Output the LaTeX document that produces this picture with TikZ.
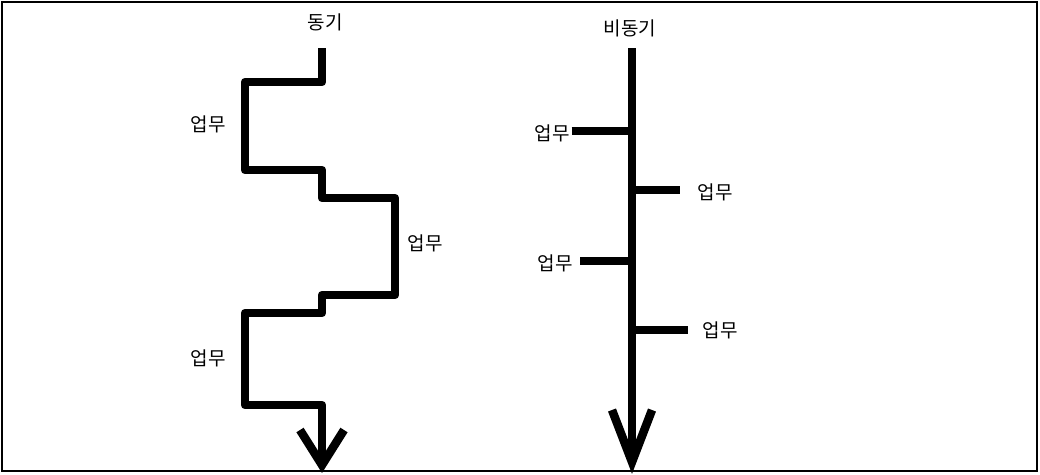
\documentclass[tikz,border=0pt]{standalone}
\usepackage{fontspec}
\setmainfont{Noto Sans CJK KR}
\begin{document}
\begin{tikzpicture}[x=1pt,y=-1pt,
  flow/.style={line width=8.5pt,line join=round},
  lbl/.style={font=\fontsize{19}{20}\selectfont,inner sep=0pt}]
\useasboundingbox (0,0) rectangle (1040,474);
\draw[line width=2pt] (2,2) rectangle (1037,471);
\node[lbl] (t1) at (325,22) {동기};
\node[lbl] (t2) at (630,28) {비동기};
% synchronous
\coordinate (s0) at (322,48);
\coordinate (s1) at (322,465);
\draw[flow] (s0) -- (322,82) -- (245,82) -- (245,170) -- (322,170) -- (322,198) -- (395,198) -- (395,295) -- (322,295) -- (322,313) -- (245,313) -- (245,405) -- (322,405) -- (s1);
\draw[flow,line join=miter] (300,430) -- (s1) -- (344,430);
\node[lbl] (a1) at (208,124) {업무};
\node[lbl] (a2) at (425,243) {업무};
\node[lbl] (a3) at (208,358) {업무};
% asynchronous
\coordinate (r0) at (632,48);
\coordinate (r1) at (632,462);
\draw[flow] (r0) -- (r1);
\draw[flow,line join=miter] (612,410) -- (r1) -- (652,410);
\node[lbl] (b1) at (552,133) {업무};
\node[lbl] (b2) at (715,192) {업무};
\node[lbl] (b3) at (555,263) {업무};
\node[lbl] (b4) at (720,330) {업무};
\draw[flow] (b1.east) ++(2,-2) coordinate (c1) -- (632,131);
\draw[flow] (632,190) -- (680,190);
\draw[flow] (580,261) -- (632,261);
\draw[flow] (632,330) -- (688,330);
\end{tikzpicture}
\end{document}
